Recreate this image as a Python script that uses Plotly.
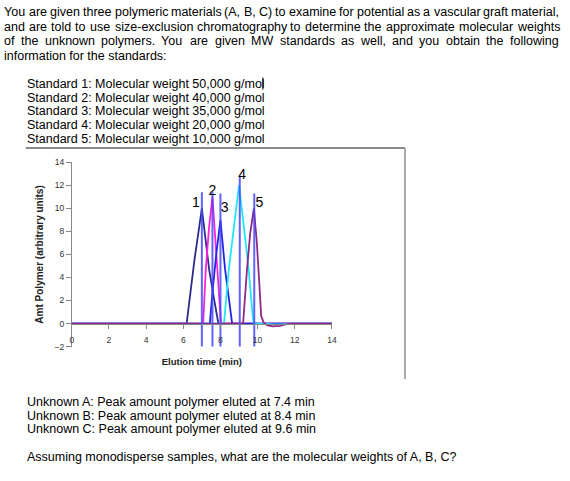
import plotly.graph_objects as go

# --- DATA ---
# chromatogram of the five MW standards (elution time [min], amount [a.u.])
std1_t = [0, 6.18, 6.34, 6.6, 7.0, 7.39, 7.66, 7.89, 14]
std1_a = [0, 0, 2.1, 5.5, 10, 4.7, 2.1, 0, 0]
std2_t = [0, 7.07, 7.21, 7.39, 7.57, 7.74, 7.89, 8.03, 14]
std2_a = [0, 0, 4.7, 8.4, 11, 7.0, 2.7, 0, 0]
std3_t = [0, 7.43, 7.57, 7.78, 8.0, 8.25, 8.46, 8.63, 14]
std3_a = [0, 0, 2.7, 6.1, 9, 4.7, 2.1, 0, 0]
std4_t = [0, 8.19, 8.45, 8.72, 9.0, 9.26, 9.52, 9.75, 9.8, 10.4, 10.8, 11.3, 11.7, 14]
std4_a = [0, 0, 4.7, 8.4, 12, 8.4, 4.7, 0.4, 0, 0, -0.08, -0.08, 0, 0]
std5_t = [0, 9.22, 9.43, 9.6, 9.8, 9.96, 10.1, 10.19, 10.32, 10.5, 10.8, 11.2, 11.5, 11.8, 14]
std5_a = [0, 0, 4.7, 7.8, 10, 7.0, 3.3, 0.7, 0.1, -0.15, -0.25, -0.2, -0.08, 0, 0]

# vertical peak markers and their numbers
peak_t = [7.0, 7.57, 8.0, 9.04, 9.82]
peak_top = [11.4, 11.4, 11.3, 12.8, 11.3]
peak_bottom = -2.3
peak_names = ['1', '2', '3', '4', '5']
name_t = [6.68, 7.57, 8.22, 9.17, 10.1]
name_a = [10.4, 11.45, 9.95, 12.9, 10.45]

x_ticks = [0, 2, 4, 6, 8, 10, 12, 14]
y_ticks = [-2, 0, 2, 4, 6, 8, 10, 12, 14]

# page text
intro = [
    'You are given three polymeric materials (A, B, C) to examine for potential as a vascular graft material,',
    'and are told to use size-exclusion chromatography to determine the approximate molecular weights',
    'of the unknown polymers. You are given MW standards as well, and you obtain the following',
    'information for the standards:',
]
standards = [
    'Standard 1: Molecular weight 50,000 g/mol',
    'Standard 2: Molecular weight 40,000 g/mol',
    'Standard 3: Molecular weight 35,000 g/mol',
    'Standard 4: Molecular weight 20,000 g/mol',
    'Standard 5: Molecular weight 10,000 g/mol',
]
unknowns = [
    'Unknown A: Peak amount polymer eluted at 7.4 min',
    'Unknown B: Peak amount polymer eluted at 8.4 min',
    'Unknown C: Peak amount polymer eluted at 9.6 min',
]
question = 'Assuming monodisperse samples, what are the molecular weights of A, B, C?'


# --- PAGE GEOMETRY (pixels) ---
W, H = 570, 481
FONT = 'Liberation Sans, Arial, sans-serif'
FS = 12.5

def px(x):
    return x / W

def py(y):
    return 1 - y / H

# Arial / Helvetica advance widths (per 1000 em), used to justify the paragraph
ADV = dict(zip('abcdefghijklmnopqrstuvwxyz',
               [556, 556, 500, 556, 556, 278, 556, 556, 222, 222, 500, 222, 833,
                556, 556, 556, 556, 333, 500, 278, 556, 500, 722, 500, 500, 500]))
ADV.update(zip('ABCDEFGHIJKLMNOPQRSTUVWXYZ',
               [667, 667, 722, 722, 667, 611, 778, 722, 278, 500, 667, 556, 833,
                722, 778, 667, 778, 722, 667, 611, 722, 667, 944, 667, 667, 611]))
ADV.update({' ': 278, ',': 278, '.': 278, ':': 278, '-': 333, '(': 333, ')': 333,
            '/': 278, '?': 556})

def text_width(s):
    return sum(ADV.get(c, 556) for c in s) * FS / 1000

fig = go.Figure()

# Add curves
cols = ['#2b2b8f', '#ff22dd', '#2424e6', '#22e6fa', '#8e2a86']
for t, a, c in zip([std1_t, std2_t, std3_t, std4_t, std5_t],
                   [std1_a, std2_a, std3_a, std4_a, std5_a], cols):
    fig.add_trace(go.Scatter(x=t, y=a, mode='lines', line=dict(color=c, width=1.8),
                             hoverinfo='skip'))

# Add peak markers
for t, top in zip(peak_t, peak_top):
    fig.add_trace(go.Scatter(x=[t, t], y=[peak_bottom, top], mode='lines',
                             line=dict(color='rgba(70,70,255,0.85)', width=2),
                             hoverinfo='skip'))

fig.add_trace(go.Scatter(x=name_t, y=name_a, mode='text', text=peak_names,
                         textfont=dict(family=FONT, size=14, color='black'),
                         hoverinfo='skip'))

# Axes - x axis crosses at y = 0
ydom = [py(348.8), py(160.7)]
x_pos = ydom[0] + (0 - y_ticks[0]) / (y_ticks[-1] - y_ticks[0]) * (ydom[1] - ydom[0])
tickfont = dict(family=FONT, size=8.5, color='#333')
titlefont = dict(family=FONT, size=9.5, color='#222')

fig.update_layout(
    width=W, height=H, autosize=False,
    margin=dict(l=0, r=0, t=0, b=0),
    paper_bgcolor='white', plot_bgcolor='white',
    showlegend=False,
    xaxis=dict(domain=[px(70.7), px(334)], range=[0, 14], tickvals=x_ticks,
               anchor='free', position=x_pos,
               showline=True, linecolor='#888', linewidth=1,
               ticks='outside', ticklen=4, tickcolor='#888',
               showgrid=False, zeroline=False, tickfont=tickfont,
               ticklabelstandoff=4,
               title=dict(text='<b>Elution time (min)</b>', font=titlefont, standoff=14)),
    yaxis=dict(domain=ydom, range=[-2, 14], tickvals=y_ticks,
               showline=True, linecolor='#888', linewidth=1,
               ticks='outside', ticklen=5, tickcolor='#888',
               showgrid=False, zeroline=False, tickfont=tickfont,
               title=dict(text='<b>Amt Polymer (arbitrary units)</b>',
                          font=dict(family=FONT, size=10, color='#222'), standoff=8)),
)

# Chart frame (top and right edges of the pasted picture)
fig.add_shape(type='line', xref='paper', yref='paper', x0=px(24), x1=px(408),
              y0=py(146), y1=py(146), line=dict(color='#8a8a8a', width=2))
fig.add_shape(type='line', xref='paper', yref='paper', x0=px(408), x1=px(408),
              y0=py(146), y1=py(382), line=dict(color='#ababab', width=2))


# --- TEXT ---
def add_text(s, x, y):
    fig.add_annotation(text=s, x=px(x), y=py(y), xref='paper', yref='paper',
                       xanchor='left', yanchor='middle', showarrow=False,
                       borderpad=0, borderwidth=0,
                       font=dict(family=FONT, size=FS, color='black'))

def add_justified(s, y, x0, x1):
    words = s.split(' ')
    widths = [text_width(w) for w in words]
    gap = (x1 - x0 - sum(widths)) / (len(words) - 1)
    x = x0
    for w, wd in zip(words, widths):
        add_text(w, x, y)
        x += wd + gap

for i, line in enumerate(intro):
    y = 7.2 + 15 * i
    if i < 3:
        add_justified(line, y, 1.7, 563.3)
    else:
        add_text(line, 1.7, y)

for i, line in enumerate(standards):
    add_text(line, 25, 80.5 + 14.1 * i)

# text cursor after the first standard
cur_x = 25 + text_width(standards[0]) + 1.5
fig.add_shape(type='line', xref='paper', yref='paper', x0=px(cur_x), x1=px(cur_x),
              y0=py(74), y1=py(86.5), line=dict(color='black', width=1))

for i, line in enumerate(unknowns):
    add_text(line, 25, 405.5 + 13.9 * i)
add_text(question, 25, 461.2)

# the page body has a default margin; drop it so pixels line up
fig.write_html('out.html', config={'displayModeBar': False},
               post_script="document.body.style.margin='0';")
